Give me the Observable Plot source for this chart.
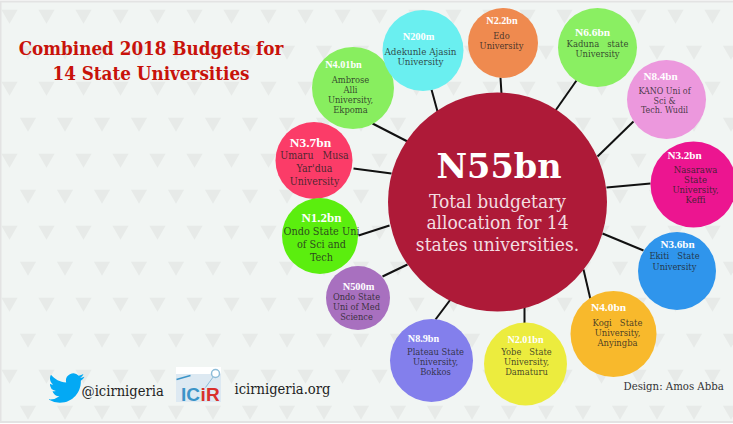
<!DOCTYPE html>
<html><head><meta charset="utf-8">
<style>html,body{margin:0;padding:0;background:#fff;overflow:hidden}svg{display:block}</style>
<script src="https://cdn.jsdelivr.net/npm/d3@7"></script>
<script src="https://cdn.jsdelivr.net/npm/@observablehq/plot@0.6"></script>
</head><body><div id="chart"></div>
<script>
const SLAB = "'DejaVu Serif Condensed','DejaVu Serif',serif";
const BOLD = "'Liberation Serif',serif";
// Values
const budgets = ["N4.01bn","N200m","N2.2bn","N6.6bn","N8.4bn","N3.2bn","N3.6bn","N4.0bn","N2.01bn","N8.9bn","N500m","N1.2bn","N3.7bn"];
const universities = [
  ["Ambrose","Alli","University,","Ekpoma"],
  ["Adekunle Ajasin","University"],
  ["Edo","University"],
  ["Kaduna\u00a0\u00a0 state","University"],
  ["KANO Uni of","Sci &","Tech. Wudil"],
  ["Nasarawa","State","University,","Keffi"],
  ["Ekiti\u00a0\u00a0 State","University"],
  ["Kogi\u00a0\u00a0 State","University,","Anyingba"],
  ["Yobe\u00a0\u00a0 State","University,","Damaturu"],
  ["Plateau State","University,","Bokkos"],
  ["Ondo State","Uni of Med","Science"],
  ["Ondo State Uni","of Sci and","Tech"],
  ["Umaru\u00a0\u00a0 Musa","Yar'dua","University"]
];
const colors = ["#88ee5f","#6aeff0","#ef8a4f","#8aef62","#ec98dd","#ec1590","#2f95ec","#f8b92c","#ecec3e","#837fec","#a870bf","#5bee0e","#fb3c68"];
// Layout, in picture units
const cx = [352.5,422.5,502.5,597,666,693,676.5,613,525,431,357.5,319.5,313.5];
const cy = [87.5,50,42.5,47,99,184,270.5,333.5,363.5,360,297.5,235.5,160];
const radius = [41,40.5,35,39.5,39.5,43,39,43,41.5,41.5,32,38,38.5];
const amountX = [343,418,501.5,592,660,684,677,608,525,423,358,321,310];
const amountY = [64,36,20,32,76,155,244,307,339,338,286,217,142];
const amountSize = [10.2,10.4,10.2,11.4,11.1,11.1,11.1,11.4,10.1,10.2,10.4,13,13.4];
const bodyX = [350,420,501,597,664,695,674,617,526,435,356,321,314];
const bodyY = [80,51,36,43,91,169,256,322,352,352,297,231,155];
const bodyGap = [10,10,10,10,9.5,10,10.5,10,10,10,10,13,13];
const bodySize = [9.3,9.8,9.3,9.4,8.9,9.5,9.3,9.4,9.3,9.3,9.2,10.8,10.5];
const spokeX1 = [372,431,500,576,633,650,643,590,524,435,382,358,353];
const spokeY1 = [123,89,77,80,121,183,250,299,323,319,276,235,168];
const spokeX2 = [407,437,501,555,597,606,602,583,524,450,407,389,391];
const spokeY2 = [141,111,94,110,156,187,233,269,305,299,264,225,173];
const hub = {x:497, y:201.5, r:109.5, label:"N55bn", lines:["Total budgetary","allocation for 14","states universities."]};
const hubLineY = [201,222.5,244];
const titleLines = ["Combined 2018 Budgets for","14 State Universities"];
const titleY = [49,74];
const gridRowY = d3.range(14,420,36);
const gridColX = d3.range(9,740,37);
const triangles = gridRowY.flatMap((y,r)=>gridColX.map(x=>({x:x+(r%2?18.5:0),y})));
const bird = "M23.953 4.57a10 10 0 01-2.825.775 4.958 4.958 0 002.163-2.723c-.951.555-2.005.959-3.127 1.184a4.92 4.92 0 00-8.384 4.482C7.69 8.095 4.067 6.13 1.64 3.162a4.822 4.822 0 00-.666 2.475c0 1.71.87 3.213 2.188 4.096a4.904 4.904 0 01-2.228-.616v.06a4.923 4.923 0 003.946 4.827 4.996 4.996 0 01-2.212.085 4.936 4.936 0 004.604 3.417 9.867 9.867 0 01-6.102 2.105c-.39 0-.779-.023-1.17-.067a13.995 13.995 0 007.557 2.209c9.053 0 13.998-7.496 13.998-13.985 0-.21 0-.42-.015-.63A9.935 9.935 0 0024 4.59z";
const birdSrc = "data:image/svg+xml;utf8," + encodeURIComponent(`<svg xmlns="http://www.w3.org/2000/svg" viewBox="0 0 24 24"><path fill="#03a9f4" d="${bird}"/></svg>`);

const idx = budgets.map((_,i)=>i);
const spokes = idx.map(i=>({x1:spokeX1[i],y1:spokeY1[i],x2:spokeX2[i],y2:spokeY2[i]}));
const circles = idx.map(i=>({x:cx[i],y:cy[i],r:radius[i],fill:colors[i]}));
const amounts = idx.map(i=>({x:amountX[i],y:amountY[i],t:budgets[i],s:amountSize[i]}));
const bodies = idx.flatMap(i=>universities[i].map((t,k)=>({x:bodyX[i],y:bodyY[i]+k*bodyGap[i],t,s:bodySize[i]})));

const plot = Plot.plot({
  width:733,height:424,margin:0,
  style:{background:"transparent",fontFamily:SLAB},
  x:{domain:[0,733],range:[0,733],axis:null},
  y:{domain:[0,424],range:[0,424],axis:null},
  r:{type:"linear",domain:[0,110],range:[0,110]},
  marks:[
    Plot.rect([{x1:0.5,x2:740,y1:1.5,y2:422}],{x1:"x1",x2:"x2",y1:"y1",y2:"y2",fill:"#f1f5f3",stroke:"#e3e3e3",strokeWidth:2}),
    Plot.dot(triangles,{x:"x",y:"y",symbol:"triangle",r:6,fill:"#e7eae8",rotate:180}),
    Plot.link(spokes,{x1:"x1",y1:"y1",x2:"x2",y2:"y2",stroke:"#111",strokeWidth:2}),
    Plot.dot(circles,{x:"x",y:"y",r:"r",fill:"fill"}),
    Plot.dot([hub],{x:"x",y:"y",r:"r",fill:"#ae1a38"}),
    Plot.text(amounts,{x:"x",y:"y",text:"t",fontSize:"s",fill:"#fff",fontWeight:"bold",fontFamily:BOLD}),
    Plot.text(bodies,{x:"x",y:"y",text:"t",fontSize:"s",fill:"#222",fillOpacity:0.82,fontFamily:SLAB}),
    Plot.text([hub],{x:()=>498.5,y:()=>167,text:"label",fontSize:33.5,fontWeight:"bold",fill:"#fff",fontFamily:"'DejaVu Serif',serif"}),
    Plot.text(hub.lines.map((t,i)=>({t,y:hubLineY[i]})),{x:()=>hub.x,y:"y",text:"t",fontSize:19,fill:"#f3dde1",fontFamily:SLAB}),
    Plot.text(titleLines.map((t,i)=>({t,y:titleY[i]})),{x:()=>150.5,y:"y",text:"t",fontSize:18.7,fontWeight:"bold",fill:"#c8120a",fontFamily:SLAB}),
    Plot.image([{x:66,y:387.5}],{x:"x",y:"y",src:()=>birdSrc,width:36,height:36}),
    Plot.text([{x:81,y:391,t:"@icirnigeria"}],{x:"x",y:"y",text:"t",fontSize:14.6,textAnchor:"start",fill:"#222",fontFamily:SLAB}),
    Plot.rect([{x1:176,x2:221,y1:367,y2:402,f:"#fff"},{x1:176,x2:221,y1:374,y2:402,f:"#dde9f2"}],{x1:"x1",x2:"x2",y1:"y1",y2:"y2",fill:"f"}),
    Plot.link([{x1:176,y1:379,x2:190,y2:375}],{x1:"x1",y1:"y1",x2:"x2",y2:"y2",stroke:"#3b94c8",strokeWidth:1.5}),
    Plot.link([{x1:205,y1:387,x2:213,y2:376}],{x1:"x1",y1:"y1",x2:"x2",y2:"y2",stroke:"#8dbcd8",strokeWidth:1}),
    Plot.dot([{x:215,y:373}],{x:"x",y:"y",r:()=>4,stroke:"#8dbcd8",fill:"#fff"}),
    Plot.text([{x:180.5,y:394.5,t:"IC",f:"#3b94c8"},{x:200,y:394.5,t:"i",f:"#d9302c"},{x:205.4,y:394.5,t:"R",f:"#d9302c"}],{x:"x",y:"y",text:"t",fill:"f",fontSize:19,textAnchor:"start",fontWeight:"bold",fontFamily:"'Liberation Sans',sans-serif"}),
    Plot.text([{x:234,y:389,t:"icirnigeria.org"}],{x:"x",y:"y",text:"t",fontSize:14.6,textAnchor:"start",fill:"#222",fontFamily:SLAB}),
    Plot.text([{x:623,y:386,t:"Design: Amos Abba"}],{x:"x",y:"y",text:"t",fontSize:11.3,textAnchor:"start",fill:"#333",fontFamily:SLAB})
  ]
});
document.getElementById("chart").append(plot);
</script></body></html>
